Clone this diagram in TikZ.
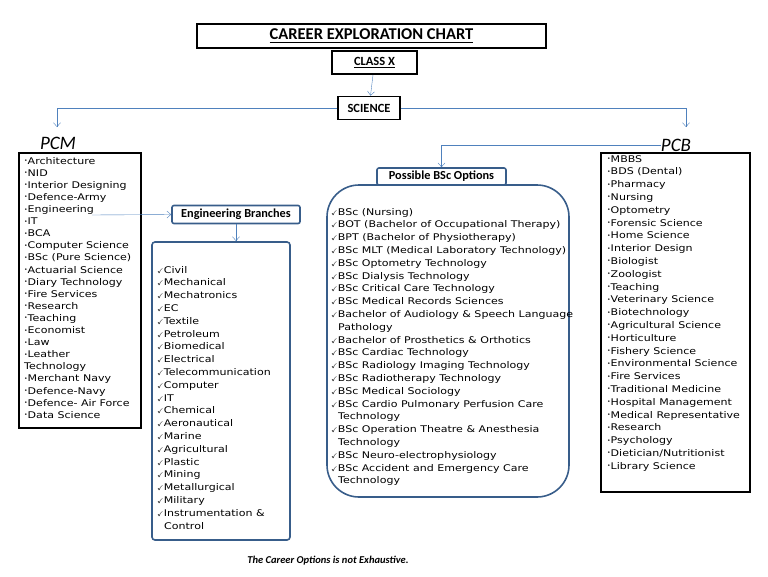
\documentclass[tikz,border=0pt]{standalone}
\usepackage{fontspec}
\usepackage{amssymb}
\setmainfont{Carlito}
\newfontfamily\listfont[FakeStretch=1.2]{DejaVu Sans}
\usetikzlibrary{positioning,arrows.meta}
\definecolor{arrowblue}{HTML}{4F81BD}
\definecolor{boxblue}{HTML}{385D8A}
\newcommand{\bl}{\raisebox{1.5pt}{\fontsize{5}{5}\selectfont\textbullet}}
\newcommand{\ck}{{\scriptsize$\checkmark$}}
\tikzset{
  titlebox/.style={draw=black, line width=1.6pt, inner sep=0pt, font=\bfseries},
  bluebox/.style={draw=boxblue, line width=1.6pt, rounded corners=2pt, inner sep=0pt, font=\bfseries\fontsize{12.3}{13}\selectfont},
  listtext/.style={align=left, anchor=north west, inner sep=0pt, font=\listfont\fontsize{9.2}{12.8}\selectfont},
  link/.style={draw=arrowblue, -{Straight Barb[length=4pt,width=7pt]}}
}
\begin{document}
\begin{tikzpicture}[x=1pt, y=-1pt]
\useasboundingbox (0,0) rectangle (768,576);

% Heading boxes
\node[titlebox, minimum width=349, minimum height=24, font=\bfseries\fontsize{16.5}{16}\selectfont] (title) at (371.5,36) {\underline{CAREER EXPLORATION CHART}};
\node[titlebox, minimum width=85, minimum height=23, font=\bfseries\fontsize{12.5}{12}\selectfont] (classx) at (374.5,62.5) {\underline{CLASS X}};
\node[titlebox, minimum width=62, minimum height=23, font=\bfseries\fontsize{12.5}{12}\selectfont] (science) at (369,108) {SCIENCE};

% Stream labels
\node[font=\itshape\fontsize{19}{19}\selectfont, inner sep=0pt] (pcm) at (58,143) {PCM};
\node[font=\itshape\fontsize{19}{19}\selectfont, inner sep=0pt] (pcb) at (676,145) {PCB};
\coordinate (pcmtop) at (57,127);
\coordinate (pcbtop) at (686,127);

% Lists
\draw[line width=1.4pt] (19,153) rectangle (141,428);
\node[listtext, font=\listfont\fontsize{9.2}{12.1}\selectfont] (pcmlist) at (24,157) {\bl Architecture\\ \bl NID\\ \bl Interior Designing\\ \bl Defence-Army\\ \bl Engineering\\ \bl IT\\ \bl BCA\\ \bl Computer Science\\ \bl BSc (Pure Science)\\ \bl Actuarial Science\\ \bl Diary Technology\\ \bl Fire Services\\ \bl Research\\ \bl Teaching\\ \bl Economist\\ \bl Law\\ \bl Leather\\ Technology\\ \bl Merchant Navy\\ \bl Defence-Navy\\ \bl Defence- Air Force\\ \bl Data Science};
\coordinate (engitem) at (92,215);

\draw[line width=1.4pt] (601,153) rectangle (750,492);
\node[listtext] (pcblist) at (607,155) {\bl MBBS\\ \bl BDS (Dental)\\ \bl Pharmacy\\ \bl Nursing\\ \bl Optometry\\ \bl Forensic Science\\ \bl Home Science\\ \bl Interior Design\\ \bl Biologist\\ \bl Zoologist\\ \bl Teaching\\ \bl Veterinary Science\\ \bl Biotechnology\\ \bl Agricultural Science\\ \bl Horticulture\\ \bl Fishery Science\\ \bl Environmental Science\\ \bl Fire Services\\ \bl Traditional Medicine\\ \bl Hospital Management\\ \bl Medical Representative\\ \bl Research\\ \bl Psychology\\ \bl Dietician/Nutritionist\\ \bl Library Science};

% Engineering branches
\node[bluebox, minimum width=128, minimum height=18] (engbr) at (236,214.5) {Engineering Branches};
\draw[boxblue, line width=1.6pt, rounded corners=3pt] (152,242) rectangle (290,540);
\coordinate (englist) at (236,241);
\node[listtext] (englisttext) at (157,266) {\ck Civil\\ \ck Mechanical\\ \ck Mechatronics\\ \ck EC\\ \ck Textile\\ \ck Petroleum\\ \ck Biomedical\\ \ck Electrical\\ \ck Telecommunication\\ \ck Computer\\ \ck IT\\ \ck Chemical\\ \ck Aeronautical\\ \ck Marine\\ \ck Agricultural\\ \ck Plastic\\ \ck Mining\\ \ck Metallurgical\\ \ck Military\\ \ck Instrumentation \&\\ \hspace*{7pt}Control};

% BSc options
\node[bluebox, minimum width=129, minimum height=17] (bsc) at (441.5,176.5) {Possible BSc Options};
\draw[boxblue, line width=1.6pt, rounded corners=32pt] (327,185) rectangle (569,497);
\node[listtext] (bsclist) at (331,208) {\ck BSc (Nursing)\\ \ck BOT (Bachelor of Occupational Therapy)\\ \ck BPT (Bachelor of Physiotherapy)\\ \ck BSc MLT (Medical Laboratory Technology)\\ \ck BSc Optometry Technology\\ \ck BSc Dialysis Technology\\ \ck BSc Critical Care Technology\\ \ck BSc Medical Records Sciences\\ \ck Bachelor of Audiology \& Speech Language\\ \hspace*{7pt}Pathology\\ \ck Bachelor of Prosthetics \& Orthotics\\ \ck BSc Cardiac Technology\\ \ck BSc Radiology Imaging Technology\\ \ck BSc Radiotherapy Technology\\ \ck BSc Medical Sociology\\ \ck BSc Cardio Pulmonary Perfusion Care\\ \hspace*{7pt}Technology\\ \ck BSc Operation Theatre \& Anesthesia\\ \hspace*{7pt}Technology\\ \ck BSc Neuro-electrophysiology\\ \ck BSc Accident and Emergency Care\\ \hspace*{7pt}Technology};

% Connectors
\draw[link] (classx) -- (science);
\draw[link] (science.west) -| (pcmtop);
\draw[link] (science.east) -| (pcbtop);
\draw[link] (pcb.west) -| (bsc.north);
\draw[link] (engitem) -- (engbr.west);
\draw[link] (engbr.south) -- (englist);

% Footnote
\node[font=\bfseries\itshape\fontsize{10.5}{10}\selectfont] (note) at (328,561) {The Career Options is not Exhaustive.};
\end{tikzpicture}
\end{document}
